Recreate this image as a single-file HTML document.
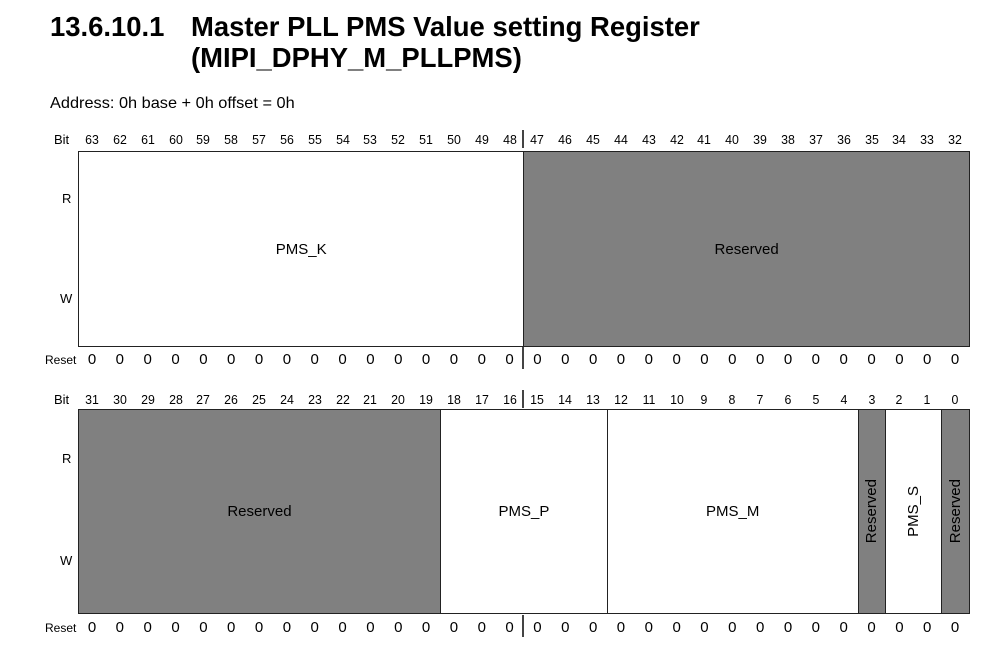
<!DOCTYPE html>
<html><head><meta charset="utf-8"><style>
body{margin:0;width:999px;height:652px;background:#fff;position:relative;overflow:hidden;font-family:"Liberation Sans",Arial,sans-serif;color:#000}
.a{position:absolute;white-space:nowrap}
.t{font-weight:bold;font-size:28px;transform:scaleX(0.98);transform-origin:0 0;line-height:30px}
.s{font-size:13px;text-align:center;width:28px;transform:scaleX(0.95)}
.z{font-size:15px;text-align:center;width:28px}
.box{position:absolute;box-sizing:border-box;border:1.5px solid #222;display:flex;align-items:center;justify-content:center;font-size:15px}
.g{background:#808080}
.v{writing-mode:vertical-rl;transform:rotate(180deg)}
.sep{position:absolute;width:1.5px;background:#444}
</style></head><body>
<div class="a t" style="left:50px;top:12px">13.6.10.1</div>
<div class="a t" style="left:191px;top:12px">Master PLL PMS Value setting Register</div>
<div class="a t" style="left:191px;top:43px">(MIPI_DPHY_M_PLLPMS)</div>
<div class="a" style="left:50px;top:95px;font-size:16px;transform:scaleX(1.02);transform-origin:0 0">Address: 0h base + 0h offset = 0h</div>
<div id="c"></div>
<script>
var x0=78,w=27.84,h='';
function X(i){return x0+i*w;}
function rows(yb,yr,yR,yW,yRes,start){
 h+='<div class="a" style="left:54px;top:'+yb+'px;font-size:13px">Bit</div>';
 h+='<div class="a" style="left:62px;top:'+yR+'px;font-size:13px">R</div>';
 h+='<div class="a" style="left:60px;top:'+yW+'px;font-size:13px">W</div>';
 h+='<div class="a" style="left:45px;top:'+(yRes+2)+'px;font-size:12px">Reset</div>';
 for(var i=0;i<32;i++){
  h+='<div class="a s" style="left:'+X(i)+'px;top:'+yb+'px">'+(start-i)+'</div>';
  h+='<div class="a z" style="left:'+X(i)+'px;top:'+yRes+'px">0</div>';
 }
 h+='<div class="sep" style="left:'+(X(16)-1)+'px;top:'+(yb-2)+'px;height:18px"></div>';
 h+='<div class="sep" style="left:'+(X(16)-1)+'px;top:'+(yRes-4)+'px;height:22px"></div>';
}
function box(a,b,y,hh,txt,g,v){
 h+='<div class="box'+(g?' g':'')+'" style="left:'+X(a)+'px;top:'+y+'px;width:'+(X(b)-X(a)+1)+'px;height:'+hh+'px">'+(v?'<span class="v">'+txt+'</span>':txt)+'</div>';
}
rows(132,151,191,291,351,63);
box(0,16,151,196,'PMS_K',0);
box(16,32,151,196,'Reserved',1);
rows(392,409,451,553,619,31);
box(0,13,409,205,'Reserved',1);
box(13,19,409,205,'PMS_P',0);
box(19,28,409,205,'PMS_M',0);
box(28,29,409,205,'Reserved',1,1);
box(29,31,409,205,'PMS_S',0,1);
box(31,32,409,205,'Reserved',1,1);
document.getElementById('c').innerHTML=h;
</script>
</body></html>
